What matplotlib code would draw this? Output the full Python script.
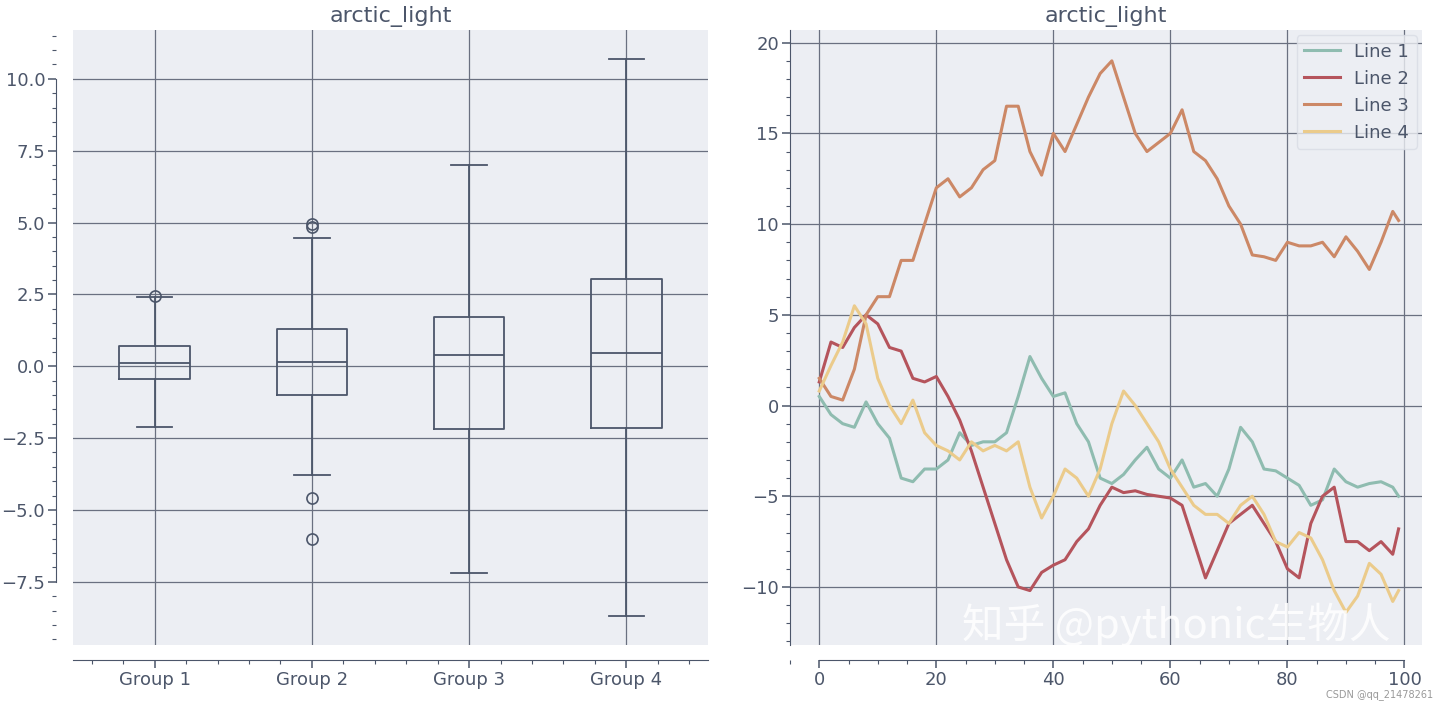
# %% arctic_light style: boxplot + random walk lines
import matplotlib.pyplot as plt

plt.rcParams['font.family'] = ['DejaVu Sans', 'Noto Sans CJK SC']

# box plot statistics
groups = ['Group 1', 'Group 2', 'Group 3', 'Group 4']
q1 = [-0.45, -1.0, -2.2, -2.15]
med = [0.1, 0.15, 0.4, 0.45]
q3 = [0.7, 1.3, 1.7, 3.05]
whislo = [-2.1, -3.8, -7.2, -8.7]
whishi = [2.4, 4.45, 7.0, 10.7]
fliers = [[2.45], [4.85, 4.95, -4.6, -6.0], [], []]

# line values
x = list(range(0, 100, 2)) + [99]
line1 = [0.5, -0.5, -1, -1.2, 0.2, -1, -1.8, -4, -4.2, -3.5, -3.5, -3, -1.5, -2.2, -2, -2,
         -1.5, 0.5, 2.7, 1.5, 0.5, 0.7, -1, -2, -4, -4.3, -3.8, -3, -2.3, -3.5, -4, -3, -4.5,
         -4.3, -5, -3.5, -1.2, -2, -3.5, -3.6, -4, -4.4, -5.5, -5.2, -3.5, -4.2, -4.5, -4.3,
         -4.2, -4.5, -5]
line2 = [1.3, 3.5, 3.2, 4.3, 5, 4.5, 3.2, 3, 1.5, 1.3, 1.6, 0.5, -0.8, -2.5, -4.5, -6.5,
         -8.5, -10, -10.2, -9.2, -8.8, -8.5, -7.5, -6.8, -5.5, -4.5, -4.8, -4.7, -4.9, -5,
         -5.1, -5.5, -7.5, -9.5, -8, -6.5, -6, -5.5, -6.5, -7.5, -9, -9.5, -6.5, -5, -4.5,
         -7.5, -7.5, -8, -7.5, -8.2, -6.8]
line3 = [1.5, 0.5, 0.3, 2, 5, 6, 6, 8, 8, 10, 12, 12.5, 11.5, 12, 13, 13.5, 16.5, 16.5, 14,
         12.7, 15, 14, 15.5, 17, 18.3, 19, 17, 15, 14, 14.5, 15, 16.3, 14, 13.5, 12.5, 11, 10,
         8.3, 8.2, 8, 9, 8.8, 8.8, 9, 8.2, 9.3, 8.5, 7.5, 9, 10.7, 10.2]
line4 = [0.8, 2.2, 3.5, 5.5, 4.5, 1.5, 0, -1, 0.3, -1.5, -2.2, -2.5, -3, -2, -2.5, -2.2,
         -2.5, -2, -4.5, -6.2, -5, -3.5, -4, -5, -3.5, -1, 0.8, 0, -1, -2, -3.5, -4.5, -5.5,
         -6, -6, -6.5, -5.5, -5, -6, -7.5, -7.8, -7, -7.3, -8.5, -10.2, -11.4, -10.5, -8.7,
         -9.3, -10.8, -10.2]
line_labels = ['Line 1', 'Line 2', 'Line 3', 'Line 4']
line_colors = ['#8fbcb0', '#b5545c', '#cc8866', '#ebcb8b']

bg = '#eceef3'
grid_c = '#6a7080'
text_c = '#4c566a'

fig = plt.figure(figsize=(14.4, 7.01), dpi=100)
ax1 = fig.add_axes([73 / 1440, 56 / 701, 635 / 1440, 615 / 701])
ax2 = fig.add_axes([790 / 1440, 56 / 701, 632 / 1440, 615 / 701])

stats = []
for i in range(len(groups)):
    stats.append(dict(q1=q1[i], med=med[i], q3=q3[i], whislo=whislo[i],
                      whishi=whishi[i], fliers=fliers[i], label=groups[i]))
box_style = dict(color=text_c, linewidth=1.3)
ax1.bxp(stats, widths=0.45, boxprops=box_style, medianprops=box_style,
        whiskerprops=box_style, capprops=box_style,
        flierprops=dict(marker='o', markerfacecolor='none', markeredgecolor=text_c,
                        markersize=8, markeredgewidth=1.2))
ax1.set_ylim(-9.7, 11.7)
ax1.set_xlim(0.48, 4.52)
ax1.set_yticks([-7.5, -5.0, -2.5, 0.0, 2.5, 5.0, 7.5, 10.0])
ax1.spines['left'].set_bounds(-7.5, 10.0)

for lab, ys, c in zip(line_labels, [line1, line2, line3, line4], line_colors):
    ax2.plot(x, ys, color=c, linewidth=2.2, label=lab)
ax2.set_xlim(-5, 103)
ax2.set_ylim(-13.2, 20.7)
ax2.set_yticks([-10, -5, 0, 5, 10, 15, 20])
ax2.set_xticks([0, 20, 40, 60, 80, 100])
ax2.spines['bottom'].set_bounds(0, 100)
leg = ax2.legend(loc='upper right', fontsize=13, frameon=True, labelcolor=text_c,
                 borderaxespad=0.3)
leg.get_frame().set_facecolor(bg)
leg.get_frame().set_edgecolor('#d8dce4')

for ax in (ax1, ax2):
    ax.set_facecolor(bg)
    ax.grid(True, color=grid_c, linewidth=0.9)
    ax.set_axisbelow(True)
    ax.set_title('arctic_light', fontsize=16, color=text_c, pad=6)
    for s in ('top', 'right'):
        ax.spines[s].set_visible(False)
    for s in ('left', 'bottom'):
        ax.spines[s].set_color(text_c)
    ax.spines['bottom'].set_position(('outward', 11))
    ax.minorticks_on()
    ax.tick_params(colors=text_c, labelsize=13, length=6, width=1.1, pad=2)
    ax.tick_params(which='minor', colors=text_c, length=3, width=0.8)
ax1.spines['left'].set_position(('outward', 12))

fig.text(0.668, 0.09, '知乎 @pythonic生物人', fontsize=30, color='white', alpha=0.85,
         family=['Noto Sans CJK SC', 'DejaVu Sans'])
fig.text(0.995, 0.006, 'CSDN @qq_21478261', fontsize=7, color='#999999', ha='right')

fig.savefig('out.png', dpi=100)
